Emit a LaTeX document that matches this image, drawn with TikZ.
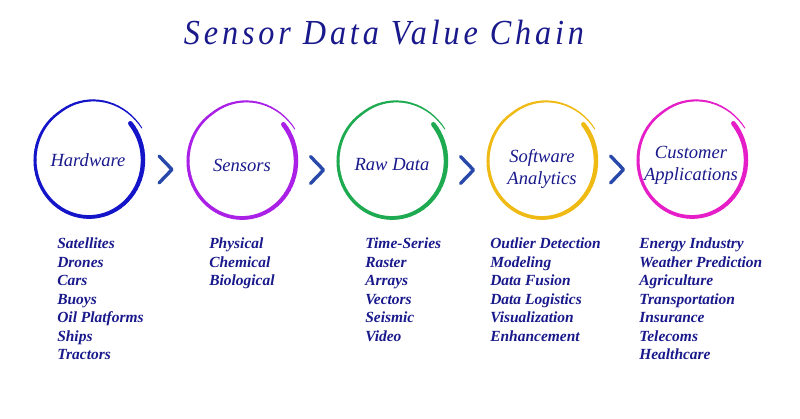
\documentclass[tikz,border=0pt]{standalone}
\usepackage{graphicx}
\usepackage{fontspec}
\setmainfont{Liberation Serif}
\newfontfamily\titlefont[LetterSpace=12]{Liberation Serif}
\usetikzlibrary{calc}

\definecolor{ink}{RGB}{25,25,140}
\definecolor{chevblue}{RGB}{40,72,170}
\definecolor{hwblue}{RGB}{20,20,200}
\definecolor{sensviolet}{RGB}{170,32,230}
\definecolor{rawgreen}{RGB}{30,170,80}
\definecolor{softgold}{RGB}{240,186,20}
\definecolor{custpink}{RGB}{230,30,200}

\tikzset{
  ring label/.style={text=ink, align=center, inner sep=0pt,
    font=\fontsize{13.2}{15.6}\selectfont\itshape},
  item/.style={anchor=base west, inner sep=0pt, text=ink,
    font=\fontsize{11}{13}\selectfont\bfseries\itshape},
  chevron/.style={chevblue, line width=2.4pt, line cap=round, line join=round},
}

% brush stroke ring: thick where it starts, thin tail that drifts outwards
\newcommand{\brushring}[2]{%
  \foreach \i in {0,...,73} {
    \pgfmathsetmacro{\aa}{40-5*\i}
    \pgfmathsetmacro{\ab}{\aa-5}
    \pgfmathsetmacro{\pp}{\i/74}
    \pgfmathsetmacro{\pq}{(\i+1)/74}
    \pgfmathsetmacro{\xa}{(54+7*max(0,\pp-0.75)/0.25)*cos(\aa)}
    \pgfmathsetmacro{\ya}{(57+7*max(0,\pp-0.75)/0.25)*sin(\aa)}
    \pgfmathsetmacro{\xb}{(54+7*max(0,\pq-0.75)/0.25)*cos(\ab)}
    \pgfmathsetmacro{\yb}{(57+7*max(0,\pq-0.75)/0.25)*sin(\ab)}
    \pgfmathsetmacro{\wd}{0.5+2.8*pow(1-\pp,0.6)}
    \draw [#2, line width=\wd pt, line cap=round, shift={(#1)}]
      (\xa,\ya) -- (\xb,\yb)
    ;
  }
}

\begin{document}
\begin{tikzpicture}[x=0.025cm, y=0.025cm]
  \useasboundingbox (0,0) rectangle (800,-419);

  \node (title) [anchor=base, inner sep=0pt, text=ink] at (384,-44.5)
    {\resizebox{10cm}{\height}{\fontsize{25}{28}\titlefont\itshape Sensor Data Value Chain}};

  % ring centres
  \coordinate (hw c)   at (89,-160);
  \coordinate (sens c) at (242,-161);
  \coordinate (raw c)  at (392,-161);
  \coordinate (soft c) at (542,-161);
  \coordinate (cust c) at (692,-160);

  \brushring{hw c}{hwblue}
  \brushring{sens c}{sensviolet}
  \brushring{raw c}{rawgreen}
  \brushring{soft c}{softgold}
  \brushring{cust c}{custpink}

  \node (hw)   [ring label] at (88,-160)   {Hardware};
  \node (sens) [ring label] at (242,-165)  {Sensors};
  \node (raw)  [ring label] at (392,-165)  {Raw Data};
  \node (soft) [ring label] at (542,-169)  {Software\\Analytics};
  \node (cust) [ring label] at (691,-165)  {Customer\\Applications};

  % chevrons between the rings
  \foreach \a/\b [count=\k] in {hw c/sens c, sens c/raw c, raw c/soft c, soft c/cust c} {
    \path (\a) -- (\b) coordinate [pos=0.5] (chev \k);
    \draw [chevron]
      (chev \k) ++(-6.5,4.5) -- ++(13,-13.5) -- ++(-13,-13.5)
    ;
  }

  % lists under the rings
  \foreach \t [count=\i] in {Satellites, Drones, Cars, Buoys, Oil Platforms, Ships, Tractors}
    \node (hw item \i) [item] at (57,-248.6-18.5*\i+18.5) {\t};
  \foreach \t [count=\i] in {Physical, Chemical, Biological}
    \node (sens item \i) [item] at (209,-248.6-18.5*\i+18.5) {\t};
  \foreach \t [count=\i] in {Time-Series, Raster, Arrays, Vectors, Seismic, Video}
    \node (raw item \i) [item] at (365,-248.6-18.5*\i+18.5) {\t};
  \foreach \t [count=\i] in {Outlier Detection, Modeling, Data Fusion, Data Logistics, Visualization, Enhancement}
    \node (soft item \i) [item] at (490,-248.6-18.5*\i+18.5) {\t};
  \foreach \t [count=\i] in {Energy Industry, Weather Prediction, Agriculture, Transportation, Insurance, Telecoms, Healthcare}
    \node (cust item \i) [item] at (639,-248.6-18.5*\i+18.5) {\t};
\end{tikzpicture}
\end{document}
